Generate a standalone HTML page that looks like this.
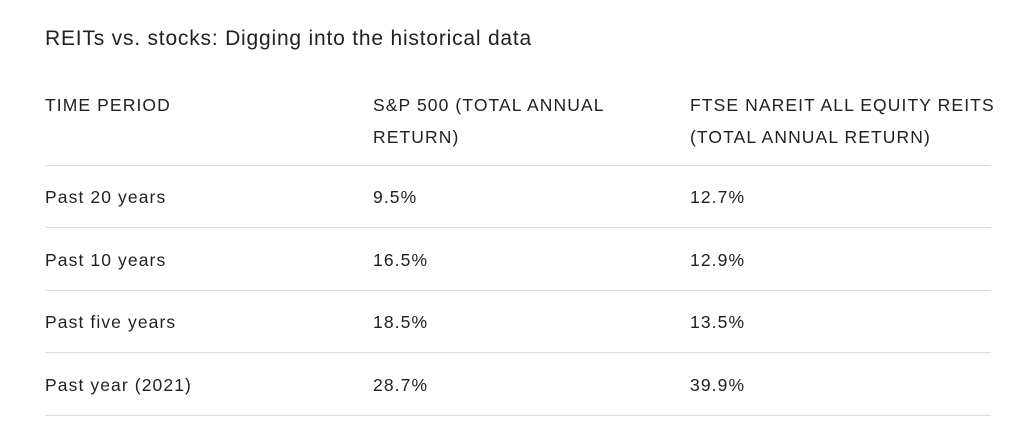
<!DOCTYPE html>
<html><head><meta charset="utf-8"><style>
body{margin:0;width:1024px;height:435px;background:#fff;font-family:"Liberation Sans",Arial,sans-serif;color:#202124;position:relative;overflow:hidden}
.t{position:absolute;white-space:nowrap}
.title{left:45px;top:27px;font-size:21px;letter-spacing:0.8px}
.c{font-size:17.5px;line-height:32px;letter-spacing:1.1px}
.line{position:absolute;left:45px;width:946px;height:1px;background:#dadce0}
</style></head><body>
<div class="t title">REITs vs. stocks: Digging into the historical data</div>
<div class="t c" style="left:45px;top:89px">TIME PERIOD</div>
<div class="t c" style="left:373px;top:89px">S&amp;P 500 (TOTAL ANNUAL<br>RETURN)</div>
<div class="t c" style="left:690px;top:89px">FTSE NAREIT ALL EQUITY REITS<br>(TOTAL ANNUAL RETURN)</div>
<div class="line" style="top:165px"></div>
<div id="rows"></div>
<script>
const periods=["Past 20 years","Past 10 years","Past five years","Past year (2021)"];
const sp500=["9.5%","16.5%","18.5%","28.7%"];
const reits=["12.7%","12.9%","13.5%","39.9%"];
const root=document.getElementById('rows');
periods.forEach((p,i)=>{
  const y=181+i*62.5;
  [[p,45,'period-cell'],[sp500[i],373,'sp500-cell'],[reits[i],690,'reits-cell']].forEach(([txt,x,n])=>{
    const d=document.createElement('div');
    d.className='t c';
    d.style.left=x+'px';d.style.top=y+'px';
    d.textContent=txt;
    
    
    root.appendChild(d);
  });
  const l=document.createElement('div');
  l.className='line';
  l.style.top=(227+i*62.5)+'px';
  
  
  root.appendChild(l);
});
</script>
</body></html>
